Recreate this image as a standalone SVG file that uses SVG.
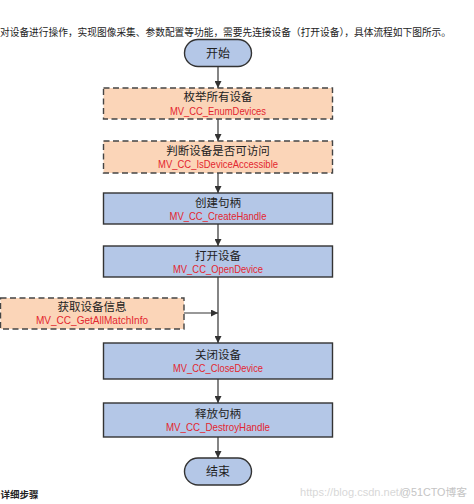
<svg xmlns="http://www.w3.org/2000/svg" width="474" height="504" viewBox="0 0 474 504">
<defs>
<marker id="ah" viewBox="0 0 10 10" refX="10" refY="5" markerWidth="7" markerHeight="7" markerUnits="userSpaceOnUse" orient="auto">
<path d="M0,0 L10,5 L0,10 z" fill="#333"/>
</marker>
<style>
.cn{font-family:"Noto Sans CJK SC","Liberation Sans",sans-serif;font-size:11.5px;fill:#222;text-anchor:middle}
.api{font-family:"Liberation Sans","Noto Sans CJK SC",sans-serif;font-size:10.5px;fill:#e3262f;text-anchor:middle}
.blue{fill:#b4c7e7;stroke:#333;stroke-width:1.4}
.dash{fill:#fbd5b8;stroke:#444;stroke-width:1.4;stroke-dasharray:6 3.5}
.term{fill:#b4c7e7;stroke:#333;stroke-width:1.4}
.ln{stroke:#333;stroke-width:1.2;fill:none;marker-end:url(#ah)}
.top{font-family:"Noto Sans CJK SC","Liberation Sans",sans-serif;font-size:10px;fill:#222}
</style>
</defs>
<rect width="474" height="504" fill="#fff"/>
<text class="top" x="0" y="35.5" textLength="451" lengthAdjust="spacingAndGlyphs">对设备进行操作，实现图像采集、参数配置等功能，需要先连接设备（打开设备），具体流程如下图所示。</text>

<g id="connectors">
<line class="ln" x1="218" y1="66" x2="218" y2="88"/>
<line class="ln" x1="218" y1="119" x2="218" y2="141"/>
<line class="ln" x1="218" y1="173" x2="218" y2="193"/>
<line class="ln" x1="218" y1="224" x2="218" y2="246"/>
<line class="ln" x1="218" y1="277" x2="218" y2="343"/>
<line class="ln" x1="184" y1="313" x2="218" y2="313"/>
<line class="ln" x1="218" y1="379" x2="218" y2="403"/>
<line class="ln" x1="218" y1="437" x2="218" y2="458"/>
</g>

<g id="start">
<rect class="term" x="184.5" y="39.5" width="67" height="27" rx="13.5"/>
<text class="cn" x="218" y="57.5" style="font-size:12px">开始</text>
</g>
<g id="enum">
<rect class="dash" x="103.5" y="88" width="229" height="31"/>
<text class="cn" x="218" y="100.5">枚举所有设备</text>
<text class="api" x="218" y="115" textLength="96" lengthAdjust="spacingAndGlyphs">MV_CC_EnumDevices</text>
</g>
<g id="accessible">
<rect class="dash" x="103.5" y="141" width="229" height="32"/>
<text class="cn" x="218" y="154.5">判断设备是否可访问</text>
<text class="api" x="218" y="167.5" textLength="120" lengthAdjust="spacingAndGlyphs">MV_CC_IsDeviceAccessible</text>
</g>
<g id="create">
<rect class="blue" x="103.5" y="193" width="229" height="31"/>
<text class="cn" x="218" y="206.5">创建句柄</text>
<text class="api" x="218" y="219.5" textLength="97" lengthAdjust="spacingAndGlyphs">MV_CC_CreateHandle</text>
</g>
<g id="open">
<rect class="blue" x="103.5" y="246" width="229" height="31"/>
<text class="cn" x="218" y="259.5">打开设备</text>
<text class="api" x="218" y="272.5" textLength="90" lengthAdjust="spacingAndGlyphs">MV_CC_OpenDevice</text>
</g>
<g id="getinfo">
<rect class="dash" x="0.5" y="298" width="183.5" height="31"/>
<text class="cn" x="92" y="310.5">获取设备信息</text>
<text class="api" x="92" y="324" textLength="112" lengthAdjust="spacingAndGlyphs">MV_CC_GetAllMatchInfo</text>
</g>
<g id="close">
<rect class="blue" x="103.5" y="343" width="229" height="36"/>
<text class="cn" x="218" y="358.5">关闭设备</text>
<text class="api" x="218" y="371.5" textLength="90" lengthAdjust="spacingAndGlyphs">MV_CC_CloseDevice</text>
</g>
<g id="destroy">
<rect class="blue" x="103.5" y="403" width="229" height="34"/>
<text class="cn" x="218" y="417.5">释放句柄</text>
<text class="api" x="218" y="431" textLength="104" lengthAdjust="spacingAndGlyphs">MV_CC_DestroyHandle</text>
</g>
<g id="end">
<rect class="term" x="184.5" y="458" width="67" height="27" rx="13.5"/>
<text class="cn" x="218" y="475.5" style="font-size:12px">结束</text>
</g>

<text x="0.5" y="497.5" style="font-family:'Noto Sans CJK SC',sans-serif;font-size:9.5px;font-weight:bold;fill:#222">详细步骤</text>
<text x="300" y="495.5" style="font-family:'Liberation Sans',sans-serif;font-size:10px;fill:#d8d8d8" textLength="102" lengthAdjust="spacingAndGlyphs">https://blog.csdn.net/</text>
<text x="400" y="495.5" style="font-family:'Liberation Sans','Noto Sans CJK SC',sans-serif;font-size:10px;fill:#c4c4c4" textLength="67" lengthAdjust="spacingAndGlyphs">@51CTO博客</text>
</svg>
